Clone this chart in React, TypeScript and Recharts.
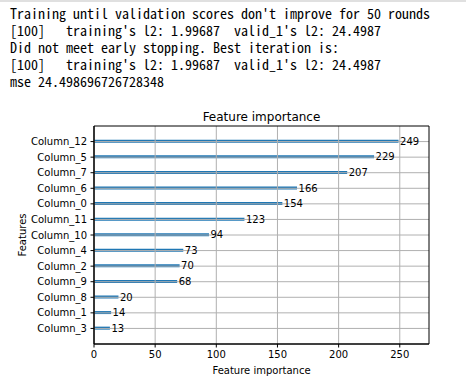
import React from "react";
import {
  BarChart,
  Bar,
  XAxis,
  YAxis,
  LabelList,
  ReferenceLine,
  Label,
} from "recharts";

const consoleLines = [
  "Training until validation scores don't improve for 50 rounds",
  "[100]\ttraining's l2: 1.99687\tvalid_1's l2: 24.4987",
  "Did not meet early stopping. Best iteration is:",
  "[100]\ttraining's l2: 1.99687\tvalid_1's l2: 24.4987",
  "mse 24.498696726728348",
];

// bottom to top
const features = [
  "Column_3",
  "Column_1",
  "Column_8",
  "Column_9",
  "Column_2",
  "Column_4",
  "Column_10",
  "Column_11",
  "Column_0",
  "Column_6",
  "Column_7",
  "Column_5",
  "Column_12",
];
const importances = [13, 14, 20, 68, 70, 73, 94, 123, 154, 166, 207, 229, 249];
const xTicks = [0, 50, 100, 150, 200, 250];

const title = "Feature importance";
const xLabel = "Feature importance";
const yLabel = "Features";

const data = features.map((name, i) => ({ pos: i, name, value: importances[i] }));
const yTicks = features.map((_, i) => i);
const xMax = Math.max(...importances) * 1.1;

const FONT = "'DejaVu Sans', sans-serif";
const GRID = "#b0b0b0";

export default function App() {
  return (
    <div
      style={{
        position: "absolute",
        left: 0,
        top: 0,
        width: 466,
        height: 386,
        background: "#fff",
        overflow: "hidden",
      }}
    >
      <div
        style={{
          position: "absolute",
          left: 0,
          top: 0,
          width: 466,
          height: 2,
          background: "#e0e0e0",
        }}
      />
      <pre
        style={{
          position: "absolute",
          left: 10,
          top: 5,
          margin: 0,
          fontFamily: "'Noto Sans Mono CJK SC', 'Liberation Mono', monospace",
          fontSize: 14,
          lineHeight: "17px",
          color: "#000",
          tabSize: 8,
        }}
      >
        {consoleLines.join("\n")}
      </pre>
      <div style={{ position: "absolute", left: 0, top: 0 }}>
        <BarChart
          width={466}
          height={386}
          layout="vertical"
          data={data}
          margin={{ top: 126, right: 37, bottom: 0, left: 0 }}
        >
          <XAxis
            type="number"
            dataKey="value"
            domain={[0, xMax]}
            ticks={xTicks}
            interval={0}
            height={42}
            tickSize={3.5}
            tickMargin={3.5}
            stroke="#000"
            tick={{ fill: "#000", fontSize: 10, fontFamily: FONT }}
            allowDataOverflow
          >
            <Label
              value={xLabel}
              position="insideBottom"
              offset={12}
              style={{ fill: "#000", fontSize: 10, fontFamily: FONT }}
            />
          </XAxis>
          <YAxis
            type="number"
            dataKey="pos"
            domain={[-1, 13]}
            ticks={yTicks}
            interval={0}
            reversed
            width={94}
            tickSize={3.5}
            tickMargin={3.5}
            stroke="#000"
            tickFormatter={(v: number) => features[v] ?? ""}
            tick={{ fill: "#000", fontSize: 10, fontFamily: FONT }}
            allowDataOverflow
          >
            <Label
              content={(props: any) => {
                const vb = props.viewBox || {};
                const cx = 22;
                const cy = (vb.y ?? 126) + (vb.height ?? 218) / 2;
                return (
                  <text
                    x={cx}
                    y={cy}
                    transform={`rotate(-90 ${cx} ${cy})`}
                    textAnchor="middle"
                    dominantBaseline="central"
                    style={{ fill: "#000", fontSize: 10, fontFamily: FONT }}
                  >
                    {yLabel}
                  </text>
                );
              }}
            />
          </YAxis>
          <Bar dataKey="value" fill="#1f77b4" barSize={3} isAnimationActive={false}>
            <LabelList
              dataKey="value"
              position="right"
              offset={1.5}
              style={{ fill: "#000", fontSize: 10, fontFamily: FONT }}
            />
          </Bar>
          {xTicks.map((t) => (
            <ReferenceLine key={"gx" + t} x={t} stroke={GRID} strokeWidth={1} ifOverflow="visible" />
          ))}
          {yTicks.map((t) => (
            <ReferenceLine key={"gy" + t} y={t} stroke={GRID} strokeWidth={1} ifOverflow="visible" />
          ))}
          <ReferenceLine y={13} stroke="#000" strokeWidth={1} ifOverflow="visible" />
          <ReferenceLine x={xMax} stroke="#000" strokeWidth={1} ifOverflow="visible" />
          <ReferenceLine y={-1} stroke="#000" strokeWidth={1} ifOverflow="visible" />
          <ReferenceLine x={0} stroke="#000" strokeWidth={1} ifOverflow="visible" />
        </BarChart>
      </div>
      <svg
        width={466}
        height={140}
        style={{ position: "absolute", left: 0, top: 0, pointerEvents: "none" }}
      >
        <text
          x={261.5}
          y={120.7}
          textAnchor="middle"
          style={{ fill: "#000", fontSize: 12, fontFamily: FONT }}
        >
          {title}
        </text>
      </svg>
    </div>
  );
}
